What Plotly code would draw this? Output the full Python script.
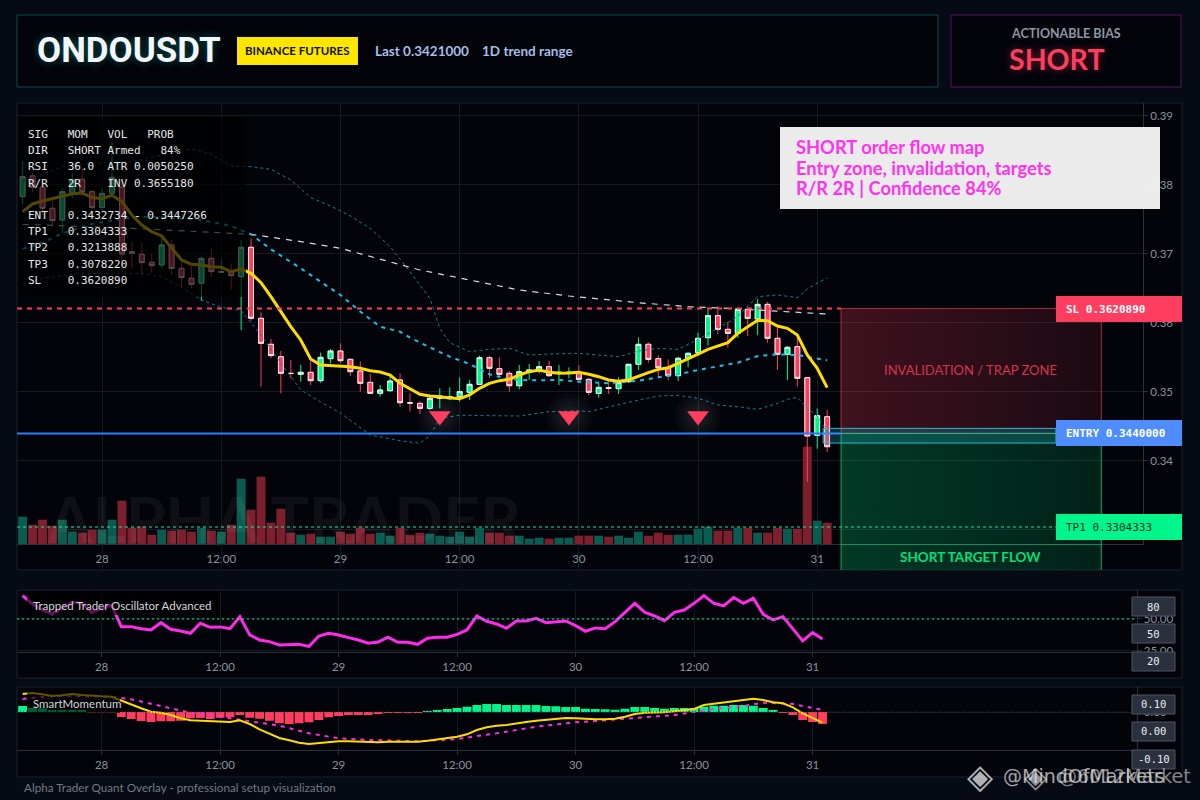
import pandas as pd
import plotly.graph_objects as go

# ---- candles (1h) ----
opens = [.37831,.38131,.37966,.37662,.37493,.37889,.38082,.37903,.37676,.37879,.37966,.37034,.36995,.36879,.36841,.37131,.36792,.36647,.36575,.36937,.36734,.36744,.36672,.37097,.36068,.35691,.35512,.35271,.35256,.35285,.35164,.35483,.35594,.35473,.35304,.3514,.34981,.35019,.35174,.34845,.34835,.34763,.34908,.34903,.34932,.34995,.35111,.35497,.35338,.3527,.35091,.35294,.35304,.35367,.35275,.3527,.35285,.35183,.3498,.35063,.35048,.35149,.35401,.35691,.35483,.35343,.35236,.35488,.3557,.35787,.36106,.35908,.3585,.36198,.36058,.3627,.35778,.35546,.35657,.35207,.34372,.34642]
highs = [.38348,.38169,.38073,.37783,.37952,.38169,.38242,.37928,.37952,.38628,.38073,.37179,.37164,.37010,.37227,.37203,.36913,.36816,.36961,.37073,.36923,.36865,.37203,.37227,.36155,.35768,.35594,.35464,.35391,.35449,.3557,.35623,.35705,.35488,.3544,.35261,.35101,.35222,.3527,.3498,.34869,.34932,.35053,.35067,.35212,.35174,.35526,.35526,.35502,.35304,.35391,.35406,.35449,.35449,.35391,.35357,.35391,.35198,.35125,.35149,.35212,.35406,.35792,.3572,.35536,.35473,.35512,.35575,.3586,.36198,.36246,.36014,.36212,.36227,.36348,.36304,.35937,.35666,.35826,.35207,.34763,.34739]
lows = [.37725,.37889,.37565,.37396,.37300,.37807,.37831,.37565,.37614,.37831,.36768,.36792,.36696,.36730,.36792,.36696,.36517,.36502,.36319,.36672,.36730,.36488,.35899,.36034,.35077,.35488,.34981,.35198,.3515,.35101,.35135,.35416,.35416,.35232,.35005,.34971,.34932,.35005,.34787,.34715,.34681,.34739,.34763,.34884,.3486,.34884,.35101,.35198,.35232,.35005,.35038,.35174,.3527,.35222,.35101,.35198,.35164,.34956,.34918,.34971,.34971,.35135,.35319,.35425,.35212,.35174,.35159,.35357,.3556,.35671,.3584,.35642,.35787,.35811,.35826,.35715,.35319,.35174,.35077,.33695,.34178,.3413]
closes = [.38121,.37966,.37662,.37483,.37903,.38073,.37903,.37672,.37879,.38111,.37000,.37010,.36874,.36831,.37131,.36792,.36657,.36560,.36937,.36744,.36744,.36686,.37097,.36068,.35705,.35527,.35271,.35268,.35285,.35164,.35502,.35594,.35454,.35295,.35126,.34981,.35029,.35159,.34845,.34840,.34763,.34908,.34942,.34932,.35005,.35111,.35497,.35343,.35256,.35091,.35294,.35319,.35367,.35236,.35285,.35285,.35183,.34995,.35067,.35053,.3514,.35401,.35691,.35473,.35352,.35236,.35488,.3556,.35778,.36106,.35908,.3585,.36198,.36067,.3627,.35778,.35546,.35647,.35198,.34362,.34657,.34207]
volumes = [273,193,243,183,243,123,113,143,143,243,433,163,173,93,143,133,143,123,163,133,123,193,653,343,673,213,353,113,93,103,73,73,123,103,163,103,113,83,163,93,113,103,83,73,123,73,163,113,113,83,83,53,63,53,63,63,83,83,83,73,83,63,123,83,113,93,93,93,153,173,133,133,163,163,113,113,163,153,153,973,233,213]

# ---- overlays ----
ema_fast = [.37614,.37725,.37768,.37802,.37831,.37874,.37884,.37817,.37802,.3785,.37759,.37565,.3742,.37324,.37261,.37092,.36913,.3685,.36841,.36816,.36807,.36744,.36783,.3672,.36585,.36382,.36155,.35947,.35754,.35478,.35391,.35382,.35372,.35367,.35343,.35309,.3529,.35246,.35125,.35043,.34966,.34942,.34932,.34922,.34903,.34956,.35053,.35125,.35164,.35183,.35246,.35294,.35319,.35285,.3527,.35275,.35285,.35256,.35222,.35174,.35154,.35174,.35232,.3528,.35328,.35352,.35415,.35488,.3555,.35618,.35666,.35715,.3585,.35947,.36038,.36034,.35956,.35922,.35826,.35536,.35343,.35063]
ema_slow_idx = [0,2,4,7,11,13,18,21,23,25,28,30,32,34,36,38,39,41,43,45,47,49,51,54,56,59,62,64,66,68,70,72,74,76,78,81]
ema_slow = [.37072,.37164,.373,.37435,.37532,.37541,.37493,.37406,.37285,.37068,.36792,.36599,.36406,.36164,.35947,.35874,.35787,.35647,.35512,.35406,.35256,.35183,.35169,.35174,.35149,.35125,.35164,.35212,.35256,.35319,.35377,.35425,.35521,.35546,.35536,.35459]
trend_idx = [0,11,23,28,32,36,40,50,55,62,67,71,81]
trend = [.3743,.37372,.37285,.37179,.37082,.36923,.36768,.36478,.36391,.36294,.36236,.36212,.3613]
upper_idx = [0,2,4,7,11,13,17,19,21,23,25,27,28,29,31,33,35,37,39,41,42,43,45,47,49,51,53,56,58,60,62,64,66,68,70,72,73,74,76,78,79,80,81]
upper_band = [.38048,.3816,.38266,.38314,.38338,.38401,.38522,.38445,.38275,.38266,.38227,.38073,.37952,.37817,.37696,.37551,.37372,.37106,.36744,.36357,.35922,.35715,.35584,.35618,.35633,.35536,.3555,.3556,.35536,.35512,.35594,.35633,.35618,.35763,.35922,.36092,.36246,.36381,.36406,.36367,.36492,.36579,.36652]
lower_idx = [0,2,5,8,12,14,16,18,20,22,24,26,28,30,32,35,38,40,41,42,44,50,53,56,57,59,61,64,66,68,70,72,74,76,77,78,79,80,81]
lower_band = [.3656,.36647,.3671,.3672,.3672,.36672,.36517,.36333,.36227,.36179,.35826,.35416,.35029,.34855,.34696,.34377,.34294,.34256,.34367,.34618,.34662,.34652,.34715,.34729,.34715,.34787,.3485,.34942,.34951,.34908,.34811,.34787,.34748,.34835,.34893,.34922,.34763,.34652,.34425]
signal_idx = [42,55,68]
signal_price = [.34652,.34652,.34652]

# ---- levels ----
entry = 0.3440000
sl = 0.3620890
tp1 = 0.3304333
band_top = 0.3447266
band_bottom = 0.3426

# ---- lower panels ----
oscillator = [68.2,61.7,57.0,53.9,58.3,62.8,62.2,55.2,58.3,60.9,44.0,44.0,42.4,41.4,47.1,41.9,40.6,38.8,46.6,43.5,43.8,42.4,51.8,37.5,33.6,32.3,29.7,29.7,30.2,28.6,36.7,38.8,37.5,35.4,33.6,31.0,32.0,35.7,31.8,31.8,30.2,34.9,35.7,35.7,38.0,41.4,52.3,48.2,46.1,42.7,48.4,48.4,50.5,47.1,47.9,48.4,44.8,40.4,43.0,42.4,47.9,55.2,62.2,55.2,52.3,48.7,55.2,57.0,62.2,68.2,62.2,60.2,66.7,62.2,66.1,53.6,49.2,51.8,42.2,32.8,39.3,34.4]
# momentum in units of 0.001
momentum = [1.80,1.90,1.77,1.60,1.67,1.80,1.70,1.60,1.57,1.53,1.13,.70,.37,.03,-.07,-.30,-.63,-.83,-.87,-.93,-.97,-1.00,-.83,-1.20,-1.73,-2.20,-2.60,-2.83,-3.07,-3.20,-3.10,-3.00,-2.93,-2.93,-2.97,-3.00,-3.03,-2.97,-2.97,-2.97,-2.97,-2.87,-2.73,-2.60,-2.47,-2.23,-1.80,-1.53,-1.37,-1.30,-1.13,-1.00,-.87,-.80,-.70,-.60,-.63,-.70,-.73,-.73,-.67,-.47,-.20,-.07,-.07,-.03,.07,.17,.30,.70,.83,.90,1.10,1.20,1.33,1.20,.97,.87,.47,-.13,-.57,-1.07]
mom_signal_idx = [0,3,9,11,14,17,20,23,26,29,32,35,40,44,48,52,56,58,62,66,70,73,75,78,81]
mom_signal = [1.30,1.60,1.53,1.27,.60,-.07,-.47,-.90,-1.37,-2.13,-2.63,-2.80,-2.93,-2.70,-2.13,-1.47,-1.03,-.90,-.63,-.30,.30,.60,.93,.80,.20]
mom_hist = [.60,.43,.37,.17,.13,.13,.13,-.03,-.05,-.05,-.50,-.70,-.90,-1.00,-.93,-.93,-.87,-.63,-.60,-.70,-.57,-.53,-.30,-.57,-.67,-.87,-1.13,-1.20,-1.13,-1.03,-.80,-.53,-.40,-.30,-.30,-.30,-.20,-.10,-.10,-.10,-.10,.03,.17,.30,.40,.53,.70,.80,.80,.70,.70,.70,.70,.60,.57,.50,.50,.33,.30,.27,.23,.33,.50,.50,.40,.33,.40,.40,.40,.53,.63,.63,.70,.70,.63,.40,.20,-.10,-.30,-.80,-1.00,-1.20]

# ---- text ----
time_ticks = ["2026-01-28 00:00", "2026-01-28 12:00", "2026-01-29 00:00", "2026-01-29 12:00",
              "2026-01-30 00:00", "2026-01-30 12:00", "2026-01-31 00:00"]
time_labels = ["28", "12:00", "29", "12:00", "30", "12:00", "31"]
price_ticks = [0.33, 0.34, 0.35, 0.36, 0.37, 0.38, 0.39]
info_lines = ["SIG   MOM   VOL   PROB", "DIR   SHORT Armed   84%", "RSI   36.0  ATR 0.0050250",
              "R/R   2R    INV 0.3655180", "", "ENT   0.3432734 - 0.3447266", "TP1   0.3304333",
              "TP2   0.3213888", "TP3   0.3078220", "SL    0.3620890"]
note_lines = ["SHORT order flow map", "Entry zone, invalidation, targets", "R/R 2R | Confidence 84%"]

UP = "#00f58a"
DOWN = "#ff3d5f"
SANS = "Lato"
MONO = "DejaVu Sans Mono"
GRID_V = "#0e1b20"
GRID_H = "#171b21"
AXIS = "#2b313b"
TICK = "#8b929c"

times = pd.date_range("2026-01-27 16:00", periods=len(closes), freq="h")
t_left, t_right = "2026-01-27 15:26", "2026-02-01 08:48"
zone_left, zone_right = "2026-01-31 02:24", "2026-02-01 04:36"
label_left = "2026-02-01 00:02"
BAR_MS = 3240000  # 0.9 of an hour


def at(idx):
    return [times[i] for i in idx]


fig = go.Figure()

# volume sits on the base axis so the candles draw over it
vol_colors = ["#0b5c50" if c >= o else "#7e1f2e" for o, c in zip(opens, closes)]
fig.add_trace(go.Bar(x=times, y=volumes, width=BAR_MS, marker=dict(color=vol_colors, line_width=0), xaxis="x", yaxis="y"))

# target and trap zones
fig.add_trace(go.Scatter(
    x=[zone_left, zone_left, zone_right, zone_right, zone_left], y=[sl, entry, entry, sl, sl],
    mode="lines", fill="toself", line=dict(color="rgba(255,61,95,0.65)", width=1),
    fillgradient=dict(type="horizontal", colorscale=[[0, "rgba(255,61,95,0.24)"], [1, "rgba(255,61,95,0.10)"]]),
    xaxis="x", yaxis="y2"))
fig.add_trace(go.Scatter(
    x=[zone_left, zone_left, zone_right, zone_right], y=[0.32797, entry, entry, 0.32797],
    mode="lines", fill="toself", line=dict(color="rgba(0,245,138,0.7)", width=1),
    fillgradient=dict(type="horizontal", colorscale=[[0, "rgba(0,245,138,0.22)"], [1, "rgba(0,245,138,0.12)"]]),
    xaxis="x", yaxis="y2"))
fig.add_trace(go.Scatter(
    x=[zone_left, zone_left, zone_right, zone_right], y=[0.3242, 0.32797, 0.32797, 0.3242],
    mode="lines", fill="toself", line=dict(color="rgba(0,245,138,0.7)", width=1),
    fillgradient=dict(type="horizontal", colorscale=[[0, "rgba(0,245,138,0.22)"], [1, "rgba(0,245,138,0.12)"]]),
    xaxis="x", yaxis="y3"))

# bands
for idx, vals in ((upper_idx, upper_band), (lower_idx, lower_band)):
    fig.add_trace(go.Scatter(x=at(idx), y=vals, mode="lines", line=dict(color="#0f7f8f", width=1, dash="dot"),
                             xaxis="x", yaxis="y2"))

# wicks first, then bodies with a pale outline
fig.add_trace(go.Candlestick(
    x=times, open=opens, high=highs, low=lows, close=closes,
    increasing=dict(line=dict(color=UP, width=1), fillcolor=UP),
    decreasing=dict(line=dict(color=DOWN, width=1), fillcolor=DOWN),
    xaxis="x", yaxis="y2"))
fig.add_trace(go.Candlestick(
    x=times, open=opens, close=closes,
    high=[max(o, c) for o, c in zip(opens, closes)], low=[min(o, c) for o, c in zip(opens, closes)],
    increasing=dict(line=dict(color="#f4f4f4", width=1), fillcolor=UP),
    decreasing=dict(line=dict(color="#f4f4f4", width=1), fillcolor=DOWN),
    xaxis="x", yaxis="y2"))

fig.add_trace(go.Scatter(x=at(trend_idx), y=trend, mode="lines", line=dict(color="#d8dce2", width=1.2, dash="6px,6px"),
                         xaxis="x", yaxis="y2"))
fig.add_trace(go.Scatter(x=at(ema_slow_idx), y=ema_slow, mode="lines", line=dict(color="#13c4ea", width=2, dash="4px,5px"),
                         xaxis="x", yaxis="y2"))
fig.add_trace(go.Scatter(x=times, y=ema_fast, mode="lines", line=dict(color="#ffdd00", width=3),
                         xaxis="x", yaxis="y2"))

# sell signals with a soft halo
for halo in (46, 38, 30, 22):
    fig.add_trace(go.Scatter(x=at(signal_idx), y=signal_price, mode="markers",
                             marker=dict(symbol="circle", size=halo, color="rgba(255,255,255,0.025)", line_width=0),
                             xaxis="x", yaxis="y2"))
fig.add_trace(go.Scatter(x=at(signal_idx), y=signal_price, mode="markers",
                         marker=dict(symbol="triangle-down", size=19, color=DOWN, line_width=0),
                         xaxis="x", yaxis="y2"))

# oscillator
fig.add_trace(go.Scatter(x=times, y=oscillator, mode="lines", line=dict(color="#ff2bea", width=3),
                         xaxis="x2", yaxis="y4"))

# momentum
hist_colors = [UP if v >= 0 else DOWN for v in mom_hist]
fig.add_trace(go.Bar(x=times, y=mom_hist, width=BAR_MS, marker=dict(color=hist_colors, line_width=0), xaxis="x3", yaxis="y5"))
fig.add_trace(go.Scatter(x=at(mom_signal_idx), y=mom_signal, mode="lines", line=dict(color="#ff2bea", width=2, dash="4px,5px"),
                         xaxis="x3", yaxis="y5"))
fig.add_trace(go.Scatter(x=times, y=momentum, mode="lines", line=dict(color="#ffdd00", width=2),
                         xaxis="x3", yaxis="y5"))


def dom_x(a, b):
    return [a / 1200, b / 1200]


def dom_y(top, bottom):
    return [1 - bottom / 800, 1 - top / 800]


def box(x0, y0, x1, y1, fill=None, line=None, layer="above", width=1):
    fig.add_shape(type="rect", xref="paper", yref="paper", x0=x0 / 1200, x1=x1 / 1200,
                  y0=1 - y0 / 800, y1=1 - y1 / 800, layer=layer,
                  fillcolor=fill or "rgba(0,0,0,0)", line=dict(color=line or "rgba(0,0,0,0)", width=width if line else 0))


def label(x, y, text, size, color, family=SANS, anchor="left", bold=False, shadow=None):
    font = dict(size=size, color=color, family=family)
    if bold:
        font["weight"] = "bold"
    if shadow:
        font["shadow"] = shadow
    fig.add_annotation(xref="paper", yref="paper", x=x / 1200, y=1 - y / 800, text=text, showarrow=False,
                       xanchor=anchor, yanchor="middle", font=font, borderpad=0)


# panel backgrounds and frames
INNER = "#02040a"
FRAME = "#18222d"
box(17, 15, 938, 87, INNER, "#0b4a4d", "below")
box(951, 15, 1181, 87, INNER, "#561460", "below")
box(17, 103, 1182, 570, INNER, FRAME, "below")
box(17, 590, 1182, 678, INNER, FRAME, "below")
box(17, 687, 1182, 777, INNER, FRAME, "below")

# price levels
fig.add_shape(type="line", xref="x", yref="y2", x0=t_left, x1=zone_left, y0=sl, y1=sl,
              line=dict(color=DOWN, width=2, dash="5px,5px"))
fig.add_shape(type="line", xref="x", yref="y2", x0=t_left, x1=zone_left, y0=entry, y1=entry,
              line=dict(color="#2a7fff", width=2))
fig.add_shape(type="line", xref="x", yref="y2", x0=t_left, x1=label_left, y0=tp1, y1=tp1,
              line=dict(color="#19e69a", width=1, dash="3px,3px"))
fig.add_shape(type="rect", xref="x", yref="y2", x0="2026-01-31 00:36", x1=label_left, y0=band_bottom, y1=band_top,
              fillcolor="rgba(40,190,220,0.22)", line=dict(color="#22bcd8", width=1))
fig.add_shape(type="line", xref="x2 domain", yref="y4", x0=0, x1=1, y0=50, y1=50,
              line=dict(color=UP, width=1, dash="2px,3px"))
fig.add_shape(type="line", xref="x3 domain", yref="y5", x0=0, x1=1, y0=0, y1=0,
              line=dict(color="#3a3f46", width=1, dash="1px,2px"))

# dark label plates over the traces
box(18, 117, 246, 297, "rgba(0,0,0,0.68)")
box(27, 591, 220, 615, "rgba(0,0,0,0.62)")
box(27, 691, 120, 713, "rgba(0,0,0,0.62)")
box(780, 127, 1160, 209, "rgba(245,245,246,0.96)")

# right hand price tags
box(1056, 296, 1182, 322, DOWN)
box(1056, 420, 1182, 446, "#4f8dff")
box(1056, 514, 1182, 540, UP)

# scale boxes on the lower panels
for top in (597, 624, 652, 695, 722, 750):
    box(1132, top, 1175, top + 19, "#2a313c", "#4d5562")

# header
label(36, 51, "ONDOUSDT", 35, "#f2f5fa", family="Roboto", bold=True, shadow="0 0 8px rgba(0,220,200,0.35)")
box(237, 37, 358, 65, "#ffe600")
label(297.5, 51, "BINANCE FUTURES", 11.5, "#111111", anchor="center", bold=True)
label(374, 51, "Last 0.3421000", 13.5, "#a8bce6", bold=True)
label(481, 51, "1D trend range", 13.5, "#a8bce6", bold=True)
label(1066, 34, "ACTIONABLE BIAS", 12.5, "#8e96a4", anchor="center", bold=True)
label(1057, 59, "SHORT", 28.5, DOWN, anchor="center", bold=True, shadow="0 0 8px rgba(255,61,95,0.45)")

# info table
info_y = [134, 150, 166, 183, 199, 215, 231, 247, 264, 280]
for y, line in zip(info_y, info_lines):
    if line:
        label(27, y, line, 11, "#e4e6e8", family=MONO)

# note box
for y, line in zip((147, 168, 188), note_lines):
    label(795, y, line, 18.3, "#ff33ee", bold=True)

# zones and tags
label(970, 370, "INVALIDATION / TRAP ZONE", 13, "#d8344f", anchor="center")
label(970, 557, "SHORT TARGET FLOW", 13.5, "#00e07a", anchor="center", bold=True)
label(1065, 309, "SL 0.3620890", 11, "#ffffff", family=MONO, bold=True)
label(1065, 433, "ENTRY 0.3440000", 11, "#ffffff", family=MONO, bold=True)
label(1065, 527, "TP1 0.3304333", 11, "#063325", family=MONO)

# scale box labels
for y, txt in zip((607, 634, 661, 704, 731, 759), ("80", "50", "20", "0.10", "0.00", "-0.10")):
    label(1153.5, y, txt, 10.5, "#e8eef4", family=MONO, anchor="center")

label(32, 605, "Trapped Trader Oscillator Advanced", 11.5, "#d4d6da")
label(32, 703, "SmartMomentum", 11.5, "#d4d6da")
label(23, 787, "Alpha Trader Quant Overlay - professional setup visualization", 11.7, "#6f7a86")

# watermarks
label(46, 518, "ALPHA TRADER", 64, "rgba(255,255,255,0.05)", bold=True)
label(966, 776, "◈", 34, "rgba(235,235,235,0.75)", family="DejaVu Sans")
label(1023, 776, "◈", 30, "rgba(235,235,235,0.6)", family="DejaVu Sans")
label(1002, 776, "@MindOfMarkets", 19, "rgba(235,235,235,0.7)", family="DejaVu Sans")
label(1057, 776, "@6012Market", 19, "rgba(235,235,235,0.55)", family="DejaVu Sans")

x_common = dict(type="date", range=[t_left, t_right], tickmode="array", tickvals=time_ticks, ticktext=time_labels,
                showgrid=True, gridcolor=GRID_V, gridwidth=1, showline=True, linecolor=AXIS, linewidth=1,
                ticks="outside", ticklen=4, tickcolor=AXIS, tickfont=dict(size=11.5, color=TICK, family=SANS),
                zeroline=False, rangeslider=dict(visible=False), fixedrange=True)
y_common = dict(showline=True, linecolor=AXIS, linewidth=1, side="right", ticks="outside", ticklen=4, tickcolor=AXIS,
                tickfont=dict(size=11.5, color=TICK, family=SANS), showgrid=True, gridcolor=GRID_H, zeroline=False)

fig.update_layout(
    width=1200, height=800, margin=dict(l=0, r=0, t=0, b=0, autoexpand=False), showlegend=False,
    paper_bgcolor="#060a12", plot_bgcolor="rgba(0,0,0,0)", barmode="overlay", bargap=0.1, hovermode=False,
    xaxis=dict(domain=dom_x(17, 1143), anchor="y", **x_common),
    yaxis=dict(domain=dom_y(103, 544), range=[0, 4410], visible=False, anchor="x"),
    yaxis2=dict(overlaying="y", anchor="x", range=[0.32797, 0.39188], tickmode="array", tickvals=price_ticks,
                tickformat=".2f", **y_common),
    yaxis3=dict(domain=dom_y(544, 570), range=[0.3242, 0.32797], visible=False, anchor="x"),
    xaxis2=dict(domain=dom_x(17, 1136.5), anchor="y4", **x_common),
    yaxis4=dict(domain=dom_y(590, 652), anchor="x2", range=[24.2, 72.6], tickmode="array", tickvals=[25, 50],
                tickformat=".2f", **y_common),
    xaxis3=dict(domain=dom_x(17, 1136.5), anchor="y5", **x_common),
    yaxis5=dict(domain=dom_y(687, 750), anchor="x3", range=[-3.8, 2.5], tickmode="array", tickvals=[0],
                ticktext=["0.00"], **y_common),
)

fig.write_html("out.html", config={"displayModeBar": False},
               post_script="document.documentElement.style.overflow='hidden';document.body.style.margin='0';"
                           "document.body.style.height='800px';document.body.style.overflow='hidden';"
                           "document.body.style.background='#060a12';")
